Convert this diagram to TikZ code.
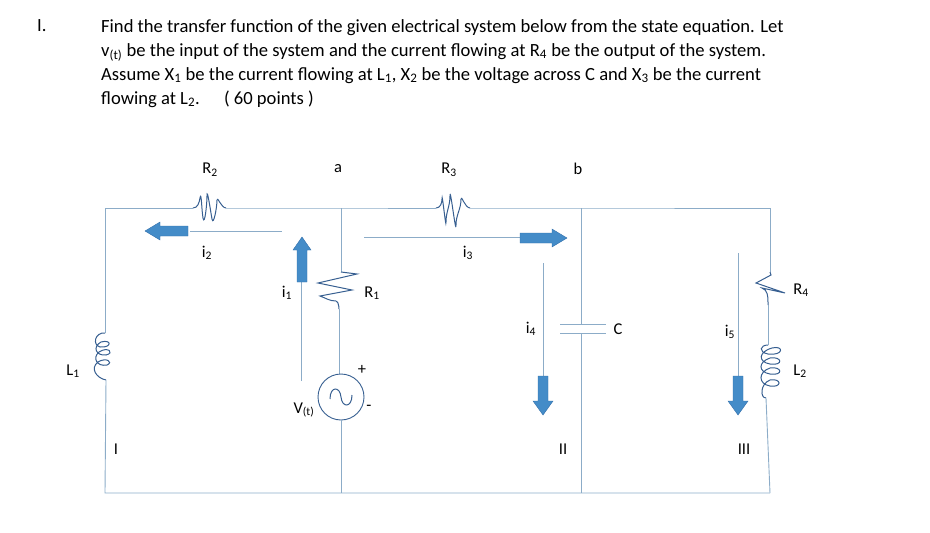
\documentclass[tikz,border=0pt]{standalone}
\usepackage{fontspec}
\setmainfont{Carlito}
\begin{document}
\begin{tikzpicture}[x=1pt,y=-1pt,
  wire/.style={draw={rgb,255:red,140;green,172;blue,200},line width=0.9pt},
  coil/.style={draw={rgb,255:red,55;green,95;blue,145},line width=1pt},
  blk/.style={fill={rgb,255:red,68;green,140;blue,200},draw={rgb,255:red,50;green,110;blue,170},line width=0.4pt},
  lbl/.style={font=\fontsize{16.5}{18}\selectfont,inner sep=0pt},
  txt/.style={font=\fontsize{18.6}{24}\selectfont,inner sep=0pt,anchor=north west,align=left}]
\useasboundingbox (0,0) rectangle (930,533);
\node[txt] (num) at (37,19) {I.};
\node[txt] (q) at (101,19) {Find the transfer function of the given electrical system below from the state equation. Let\\
v\textsubscript{(t)} be the input of the system and the current flowing at R\textsubscript{4} be the output of the system.\\
Assume X\textsubscript{1} be the current flowing at L\textsubscript{1}, X\textsubscript{2} be the voltage across C and X\textsubscript{3} be the current\\
flowing at L\textsubscript{2}. \quad( 60 points )};
% corner coordinates
\coordinate (tl) at (105,208); \coordinate (bl) at (105,493);
\coordinate (ta) at (341,208); \coordinate (ba) at (341,493);
\coordinate (tb) at (581,208); \coordinate (bb) at (581,493);
\coordinate (tr) at (770,208); \coordinate (br) at (770,493);
% top wire with R2 and R3
\draw[wire] (tl) -- (193,208);
\draw[coil] (193,208) to[out=0,in=-100] (200,198) to[out=80,in=100] (203,218) to[out=-80,in=-90] (207,196) to[out=90,in=100] (212,219) to[out=-80,in=-90] (217,200) to[out=90,in=180] (226,208);
\draw[wire] (226,208) -- (ta) -- (436,208);
\draw[coil] (436,208) to[out=0,in=-90] (442,199) to[out=90,in=-90] (446,222) to[out=90,in=-90] (450,196) to[out=90,in=-90] (456,225) to[out=90,in=-90] (461,199) to[out=90,in=180] (470,208);
\draw[wire] (470,208) -- (tb) -- (tr);
% left branch with L1
\draw[wire] (tl) -- (105,333);
\draw[coil] (105,333) .. controls (95,332) and (92,345) .. (100,347) .. controls (112,348) and (112,339) .. (101,342)
  .. controls (92,347) and (96,356) .. (106,355) .. controls (115,353) and (108,346) .. (99,352)
  .. controls (92,358) and (97,367) .. (107,365) .. controls (114,362) and (106,357) .. (98,362)
  .. controls (90,368) and (96,378) .. (106,380);
\draw[wire] (106,380) -- (bl) -- (br);
% middle branch: R1 and source
\draw[wire] (ta) -- (341,272);
\draw[coil] (341,272) -- (357,274) -- (318,283) -- (352,290) -- (320,296) to[out=-20,in=180] (336,301) to[out=0,in=-90] (339,309);
\draw[wire] (339,309) -- (339,374);
\node[circle,draw={rgb,255:red,55;green,95;blue,145},line width=0.9pt,minimum size=46pt,inner sep=0pt] (src) at (341,397) {};
\draw[coil] (330,399) .. controls (330,386) and (340,386) .. (341,397) .. controls (342,408) and (352,408) .. (352,395);
\draw[wire] (src.south) -- (ba);
% capacitor branch
\draw[wire] (tb) -- (581,324);
\draw[wire] (560,324) -- (606,324) (560,333) -- (606,333);
\draw[wire] (581,333) -- (bb);
% right branch R4 L2
\draw[wire] (tr) -- (770,272);
\draw[coil] (770,272) -- (771,275) -- (756,283) -- (785,293) -- (762,288) to[out=-20,in=90] (768,302) -- (768,305);
\draw[wire] (768,305) -- (768,345);
\draw[coil] (768,345) .. controls (760,345) and (758,352) .. (768,354) .. controls (784,356) and (784,345) .. (772,348)
 .. controls (758,352) and (758,362) .. (770,364) .. controls (784,366) and (782,356) .. (770,358)
 .. controls (758,362) and (758,372) .. (770,374) .. controls (784,376) and (782,366) .. (770,368)
 .. controls (758,372) and (758,384) .. (770,386) .. controls (782,388) and (782,378) .. (770,380)
 .. controls (760,384) and (760,398) .. (766,398);
\draw[wire] (766,398) -- (br);
% current indicator lines
\draw[wire] (190,231) -- (282,231);
\draw[blk] (188,226) -- (160,226) -- (160,222) -- (145,231) -- (160,240) -- (160,236) -- (188,236) -- cycle;
\draw[wire] (364,237) -- (520,237);
\draw[blk] (520,233) -- (552,233) -- (552,229) -- (567,238) -- (552,247) -- (552,243) -- (520,243) -- cycle;
\draw[wire] (301,381) -- (301,282);
\draw[blk] (297,282) -- (297,250) -- (293,250) -- (302,237) -- (311,250) -- (307,250) -- (307,282) -- cycle;
\draw[wire] (543,263) -- (543,376);
\draw[blk] (538,376) -- (548,376) -- (548,401) -- (553,401) -- (543,415) -- (533,401) -- (538,401) -- cycle;
\draw[wire] (738,253) -- (738,376);
\draw[blk] (733,376) -- (743,376) -- (743,401) -- (748,401) -- (738,415) -- (728,401) -- (733,401) -- cycle;
% labels
\node[lbl] (lR2) at (210,170) {R\textsubscript{2}};
\node[lbl] (la) at (338,169) {a};
\node[lbl] (lR3) at (449,170) {R\textsubscript{3}};
\node[lbl] (lb) at (578,169) {b};
\node[lbl] (li2) at (207,253) {i\textsubscript{2}};
\node[lbl] (li3) at (468,253) {i\textsubscript{3}};
\node[lbl] (li1) at (287,293) {i\textsubscript{1}};
\node[lbl] (lR1) at (372,293) {R\textsubscript{1}};
\node[lbl] (li4) at (531,329) {i\textsubscript{4}};
\node[lbl] (lC) at (618,329) {C};
\node[lbl] (li5) at (730,332) {i\textsubscript{5}};
\node[lbl] (lR4) at (801,290) {R\textsubscript{4}};
\node[lbl] (lL2) at (800,371) {L\textsubscript{2}};
\node[lbl] (lL1) at (73,371) {L\textsubscript{1}};
\node[lbl] (lV) at (304,410) {V\textsubscript{(t)}};
\node[lbl] (lp) at (362,370) {+};
\node[lbl] (lm) at (369,408) {-};
\node[lbl] (lI) at (116,449) {I};
\node[lbl] (lII) at (563,449) {II};
\node[lbl] (lIII) at (744,449) {III};
\end{tikzpicture}
\end{document}
